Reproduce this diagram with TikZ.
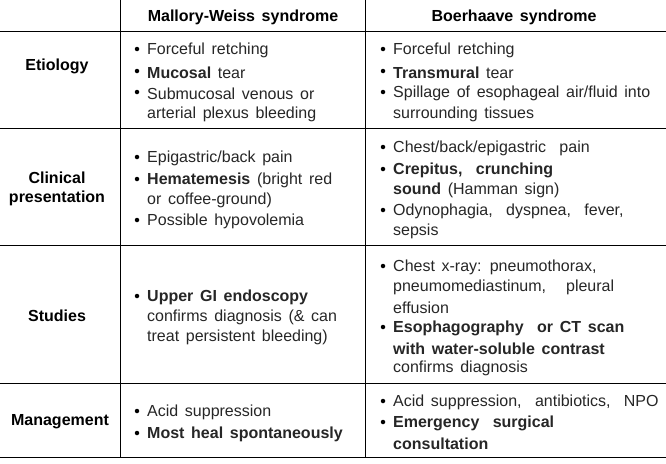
\documentclass[tikz,border=0pt]{standalone}
\usepackage{fontspec}
\setmainfont{Liberation Sans}[WordSpace={1.5,1,1}]
\begin{document}
\begin{tikzpicture}[x=1pt,y=-1pt,
  t/.style={anchor=west,inner sep=0pt,font=\fontsize{16}{18}\selectfont,text=black!85,yshift=-1.5pt},
  h/.style={inner sep=0pt,font=\fontsize{16}{19}\selectfont\bfseries,align=center,yshift=-1pt},
  bl/.style={circle,fill=black,inner sep=0pt,minimum size=4.5pt},
  rule/.style={line width=1pt}]
\useasboundingbox (0,0) rectangle (666,463);
\draw[rule] (0,31) -- (666,31);
\draw[rule] (0,128) -- (666,128);
\draw[rule] (0,245) -- (666,245);
\draw[rule] (0,383) -- (666,383);
\draw[rule] (0,457) -- (666,457);
\draw[rule] (120,0) -- (120,457);
\draw[rule] (365,0) -- (365,457);
\node[h] (hm) at (243,16) {Mallory-Weiss syndrome};
\node[h] (hb) at (514,16) {Boerhaave syndrome};
\node[h] (r1) at (57,65) {Etiology};
\node[h] (r2) at (57,188) {Clinical\\presentation};
\node[h] (r3) at (57,315) {Studies};
\node[h] (r4) at (60,421) {Management};
% column 2
\node[bl] (b1) at (137,49) {}; \node[t] (a1) at (147,49) {Forceful retching};
\node[bl] (b2) at (137,71) {}; \node[t] (a2) at (147,71) {\textbf{Mucosal} tear};
\node[bl] (b3) at (137,92) {}; \node[t] (a3) at (147,92) {Submucosal venous or};
\node[t] (a4) at (147,113) {arterial plexus bleeding};
\node[bl] (b5) at (137,157) {}; \node[t] (a5) at (147,157) {Epigastric/back pain};
\node[bl] (b6) at (137,179) {}; \node[t] (a6) at (147,179) {\textbf{Hematemesis} (bright red};
\node[t] (a7) at (147,199) {or coffee-ground)};
\node[bl] (b8) at (137,220) {}; \node[t] (a8) at (147,220) {Possible hypovolemia};
\node[bl] (b9) at (137,296) {}; \node[t] (a9) at (147,296) {\textbf{Upper GI endoscopy}};
\node[t] (a10) at (147,316) {confirms diagnosis (\& can};
\node[t] (a11) at (147,336) {treat persistent bleeding)};
\node[bl] (b12) at (137,411) {}; \node[t] (a12) at (147,411) {Acid suppression};
\node[bl] (b13) at (137,433) {}; \node[t] (a13) at (147,433) {\textbf{Most heal spontaneously}};
% column 3
\node[bl] (c1) at (383,49) {}; \node[t] (d1) at (393,49) {Forceful retching};
\node[bl] (c2) at (383,71) {}; \node[t] (d2) at (393,71) {\textbf{Transmural} tear};
\node[bl] (c3) at (383,92) {}; \node[t] (d3) at (393,92) {Spillage of esophageal air/fluid into};
\node[t] (d4) at (393,113) {surrounding tissues};
\node[bl] (c5) at (383,147) {}; \node[t] (d5) at (393,147) {Chest/back/epigastric\ \ pain};
\node[bl] (c6) at (383,169) {}; \node[t] (d6) at (393,169) {\textbf{Crepitus,\ \ crunching}};
\node[t] (d7) at (393,189) {\textbf{sound} (Hamman sign)};
\node[bl] (c8) at (383,210) {}; \node[t] (d8) at (393,210) {Odynophagia,\ \ dyspnea,\ \ fever,};
\node[t] (d9) at (393,230) {sepsis};
\node[bl] (c10) at (383,266) {}; \node[t] (d10) at (393,266) {Chest x-ray: pneumothorax,};
\node[t] (d11) at (393,286) {pneumomediastinum,\ \ \ pleural};
\node[t] (d12) at (393,306) {effusion};
\node[bl] (c13) at (383,327) {}; \node[t] (d13) at (393,327) {\textbf{Esophagography\ \ or CT scan}};
\node[t] (d14) at (393,347) {\textbf{with water-soluble contrast}};
\node[t] (d15) at (393,367) {confirms diagnosis};
\node[bl] (c16) at (383,401) {}; \node[t] (d16) at (393,401) {Acid suppression,\ \ antibiotics,\ \ NPO};
\node[bl] (c17) at (383,422) {}; \node[t] (d17) at (393,422) {\textbf{Emergency\ \ surgical}};
\node[t] (d18) at (393,442) {\textbf{consultation}};
\end{tikzpicture}
\end{document}
